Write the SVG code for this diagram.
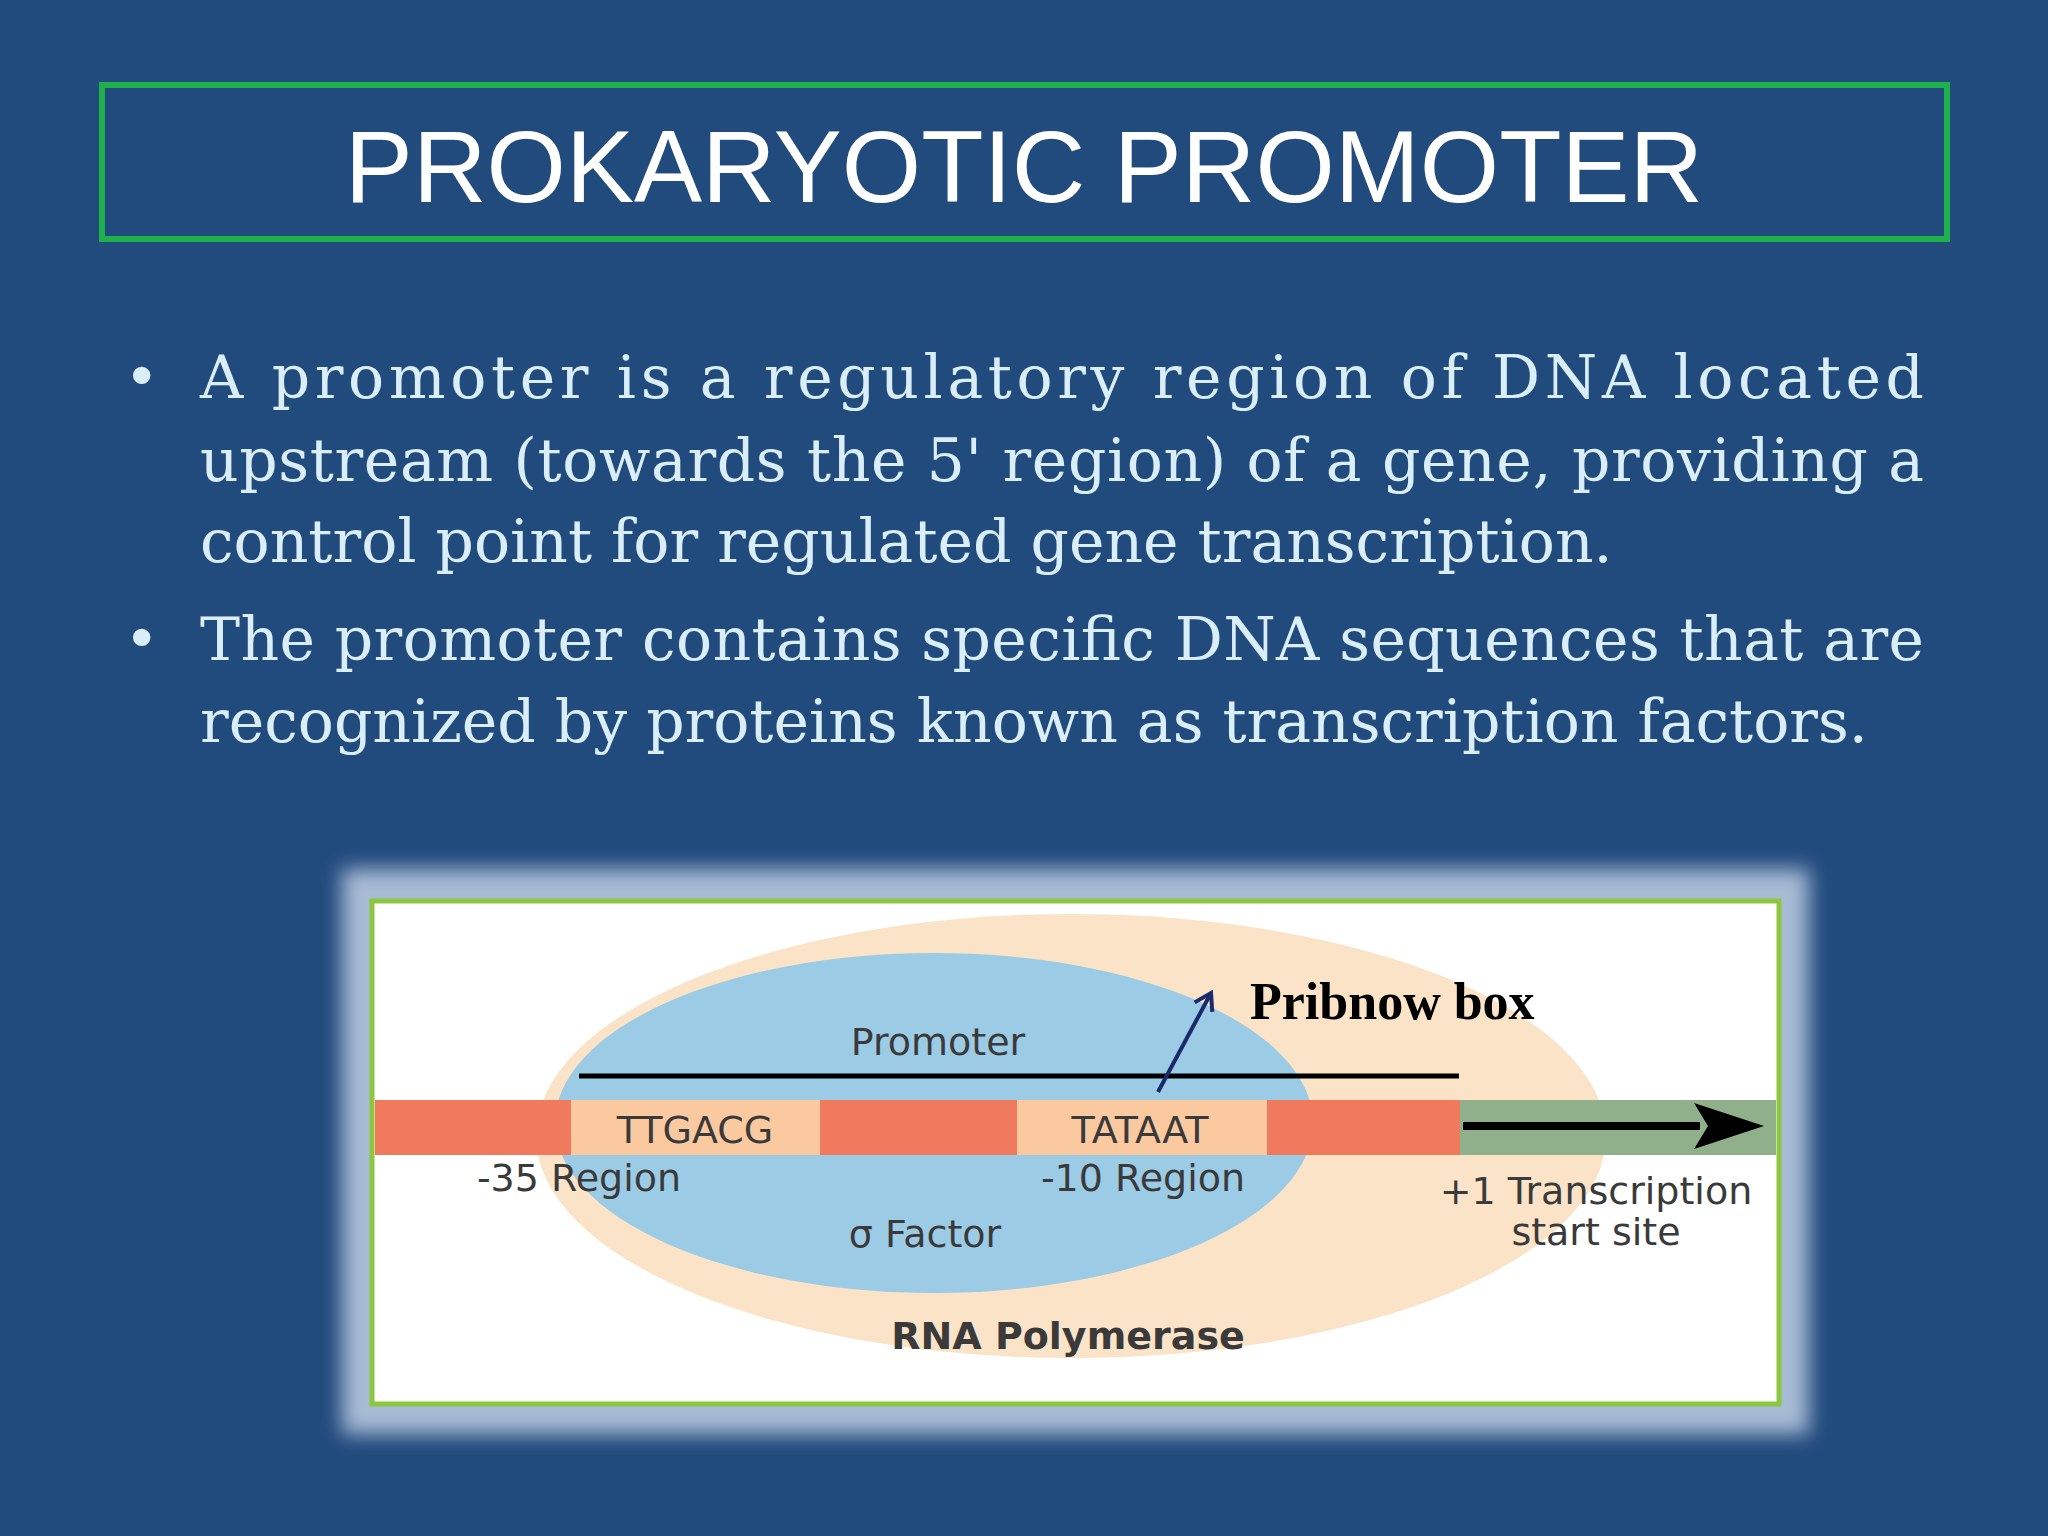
<svg xmlns="http://www.w3.org/2000/svg" width="2048" height="1536" viewBox="0 0 2048 1536">
<defs>
<filter id="glow" x="-10%" y="-10%" width="120%" height="120%"><feGaussianBlur stdDeviation="10"/></filter>
<marker id="bk" markerWidth="70" markerHeight="50" refX="66" refY="25" orient="auto" markerUnits="userSpaceOnUse"><path d="M0,2 L70,25 L0,48 L14,25 z" fill="#000"/></marker>
<marker id="bl" markerWidth="24" markerHeight="24" refX="20" refY="12" orient="auto" markerUnits="userSpaceOnUse"><path d="M4,2 L20,12 L4,22" fill="none" stroke="#1a2a6c" stroke-width="4"/></marker>
<style>
.b{font-family:"DejaVu Serif","Liberation Serif",serif;font-size:60px;fill:#d9eef8}
.d{font-family:"DejaVu Sans","Liberation Sans",sans-serif;font-size:38px;fill:#3a3a3a;text-anchor:middle}
</style>
</defs>
<rect width="2048" height="1536" fill="#214a7d"/>
<g id="title">
<rect x="102" y="85" width="1845" height="154" fill="none" stroke="#1db04b" stroke-width="6"/>
<text x="1024" y="202" text-anchor="middle" font-family="Liberation Sans,Arial,sans-serif" font-size="102" fill="#fff">PROKARYOTIC PROMOTER</text>
</g>
<g id="bullets">
<text class="b" x="124" y="398">•</text>
<text class="b" x="200" y="398" textLength="1724" lengthAdjust="spacing">A promoter is a regulatory region of DNA located</text>
<text class="b" x="200" y="481" textLength="1724" lengthAdjust="spacing">upstream (towards the 5' region) of a gene, providing a</text>
<text class="b" x="200" y="562">control point for regulated gene transcription.</text>
<text class="b" x="124" y="660">•</text>
<text class="b" x="200" y="660" textLength="1724" lengthAdjust="spacing">The promoter contains specific DNA sequences that are</text>
<text class="b" x="200" y="742">recognized by proteins known as transcription factors.</text>
</g>
<g id="figure">
<rect x="342" y="869" width="1467" height="565" fill="#a9bcd6" filter="url(#glow)"/>
<rect x="372" y="901" width="1407" height="503" fill="#fff" stroke="#8dc63f" stroke-width="5"/>
<ellipse cx="1071" cy="1136" rx="535" ry="222" fill="#fbe3c8"/>
<ellipse cx="934" cy="1123" rx="379" ry="170" fill="#9ccbe6"/>
<rect x="375" y="1100" width="1085" height="55" fill="#f07a5d"/>
<rect x="571" y="1100" width="249" height="55" fill="#fbc9a0"/>
<rect x="1017" y="1100" width="250" height="55" fill="#fbc9a0"/>
<rect x="1460" y="1100" width="316" height="55" fill="#8fb08a"/>
</g>
<g id="connectors">
<line x1="579" y1="1076" x2="1459" y2="1076" stroke="#000" stroke-width="5"/>
<line x1="1463" y1="1126" x2="1700" y2="1126" stroke="#000" stroke-width="8"/>
<line x1="1690" y1="1126" x2="1760" y2="1126" stroke="none" marker-end="url(#bk)"/>
<line x1="1158" y1="1092" x2="1211" y2="993" stroke="#1a2a6c" stroke-width="4" marker-end="url(#bl)"/>
</g>
<g id="labels">
<text class="d" x="938" y="1055">Promoter</text>
<text class="d" x="695" y="1143">TTGACG</text>
<text class="d" x="1140" y="1143">TATAAT</text>
<text class="d" x="579" y="1191" text-anchor="start">-35 Region</text>
<text class="d" x="1143" y="1191">-10 Region</text>
<text class="d" x="925" y="1247">σ Factor</text>
<text class="d" x="1596" y="1204">+1 Transcription</text>
<text class="d" x="1596" y="1245">start site</text>
<text class="d" x="1068" y="1349" font-weight="bold">RNA Polymerase</text>
<text x="1250" y="1019" font-family="Liberation Serif,serif" font-weight="bold" font-size="52" fill="#000">Pribnow box</text>
</g>
</svg>
